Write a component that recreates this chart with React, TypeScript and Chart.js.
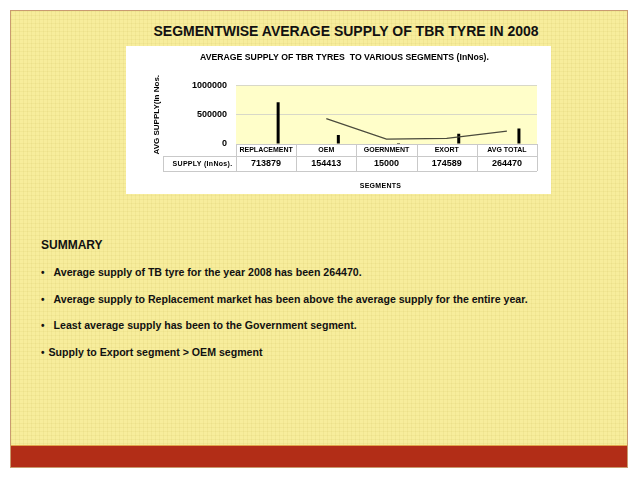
import React, { useEffect, useRef } from "react";
import { Chart, registerables } from "chart.js";

Chart.register(...registerables);

const slideTitle = "SEGMENTWISE AVERAGE SUPPLY OF TBR TYRE IN 2008";
const chartTitle = "AVERAGE SUPPLY OF TBR TYRES  TO VARIOUS SEGMENTS (InNos).";
const yAxisTitle = "AVG SUPPLY(In Nos.";
const xAxisTitle = "SEGMENTS";
const tableRowLabel = "SUPPLY (InNos).";

const categories = ["REPLACEMENT", "OEM", "GOERNMENT", "EXORT", "AVG TOTAL"];
const supply = [713879, 154413, 15000, 174589, 264470];
// 2-period moving average trendline
const movingAverage = [null, 434146, 84707, 94795, 219530];
const placeholder = [null, null, null, null, null];
const yTicks = [0, 500000, 1000000];

const summaryTitle = "SUMMARY";
const summaryItems = [
  "Average supply of TB tyre for the year 2008 has been 264470.",
  "Average supply to Replacement market has been above the average supply for the entire year.",
  "Least average supply has been to the Government segment.",
  "Supply to Export segment > OEM segment",
];

const FONT = "Arial, 'Liberation Sans', sans-serif";

const plotBgPlugin = {
  id: "plotBg",
  beforeDraw(chart: any) {
    const { ctx, chartArea } = chart;
    ctx.save();
    ctx.fillStyle = "#fffec9";
    ctx.fillRect(chartArea.left, chartArea.top, chartArea.right - chartArea.left, chartArea.bottom - chartArea.top);
    ctx.restore();
  },
};

const tablePlugin = {
  id: "dataTable",
  afterDraw(chart: any) {
    const { ctx, chartArea } = chart;
    const { left, right, bottom } = chartArea;
    const n = categories.length;
    const colW = (right - left) / n;
    const r1 = bottom;
    const r2 = bottom + 12;
    const r3 = bottom + 27;
    const headerLeft = left - 73;
    ctx.save();
    ctx.strokeStyle = "#c9c9c9";
    ctx.lineWidth = 1;
    ctx.beginPath();
    ctx.moveTo(left, r1 + 0.5);
    ctx.lineTo(right, r1 + 0.5);
    ctx.moveTo(headerLeft, r2 + 0.5);
    ctx.lineTo(right, r2 + 0.5);
    ctx.moveTo(headerLeft, r3 + 0.5);
    ctx.lineTo(right, r3 + 0.5);
    for (let i = 0; i <= n; i++) {
      const x = Math.round(left + i * colW) + 0.5;
      ctx.moveTo(x, r1);
      ctx.lineTo(x, r3);
    }
    ctx.moveTo(headerLeft + 0.5, r2);
    ctx.lineTo(headerLeft + 0.5, r3);
    ctx.stroke();

    ctx.fillStyle = "#000";
    ctx.textAlign = "center";
    ctx.textBaseline = "middle";
    (ctx as any).letterSpacing = "0px";
    ctx.font = `bold 7px ${FONT}`;
    categories.forEach((c, i) => {
      ctx.fillText(c, left + (i + 0.5) * colW, (r1 + r2) / 2 + 0.5);
    });
    ctx.font = `bold 9px ${FONT}`;
    supply.forEach((v, i) => {
      ctx.fillText(String(v), left + (i + 0.5) * colW, (r2 + r3) / 2 + 0.5);
    });
    (ctx as any).letterSpacing = "0.3px";
    ctx.font = `bold 7px ${FONT}`;
    ctx.fillText(tableRowLabel, (headerLeft + left) / 2 + 3, (r2 + r3) / 2 + 0.5);
    ctx.fillText(xAxisTitle, (left + right) / 2 - 6, r3 + 15);
    ctx.restore();
  },
};

function ChartBox() {
  const ref = useRef<HTMLCanvasElement | null>(null);
  useEffect(() => {
    if (!ref.current) return;
    const chart = new Chart(ref.current, {
      type: "bar",
      data: {
        labels: categories,
        datasets: [
          {
            type: "line",
            label: "Trend",
            data: movingAverage as any,
            borderColor: "#4a4a3c",
            borderWidth: 1.2,
            pointRadius: 0,
            tension: 0,
            fill: false,
          } as any,
          {
            type: "bar",
            label: "",
            data: placeholder as any,
            backgroundColor: "rgba(0,0,0,0)",
          },
          {
            type: "bar",
            label: tableRowLabel,
            data: supply,
            backgroundColor: "#000",
            maxBarThickness: 3,
          },
        ],
      },
      options: {
        animation: false,
        responsive: false,
        maintainAspectRatio: false,
        datasets: { bar: { categoryPercentage: 0.8, barPercentage: 1 } } as any,
        layout: { padding: { left: 26, right: 14, top: 6, bottom: 50 } },
        plugins: {
          legend: { display: false },
          tooltip: { enabled: false },
          title: {
            display: true,
            text: chartTitle,
            color: "#000",
            font: { family: FONT, size: 8.7, weight: "bold" },
            padding: { top: 0, bottom: 23 },
          },
        },
        scales: {
          x: { display: false, offset: true },
          y: {
            min: 0,
            max: 1000000,
            afterBuildTicks: (s: any) => {
              s.ticks = yTicks.map((v) => ({ value: v }));
            },
            afterFit: (s: any) => {
              s.width = 84;
            },
            ticks: {
              color: "#000",
              font: { family: FONT, size: 9, weight: "bold" },
              padding: 9,
              callback: (v: any) => String(v),
            },
            grid: { color: "#d8d8c8", drawTicks: false },
            border: { display: false },
            title: {
              display: true,
              text: yAxisTitle,
              color: "#000",
              font: { family: FONT, size: 8, weight: "bold" },
              padding: 0,
            },
          },
        },
      },
      plugins: [plotBgPlugin, tablePlugin],
    });
    return () => chart.destroy();
  }, []);
  return (
    <canvas
      ref={ref}
      width={425}
      height={148}
      style={{ position: "absolute", left: 126, top: 46, width: 425, height: 148, background: "#fff" }}
    />
  );
}

export default function App() {
  useEffect(() => {
    document.body.style.margin = "0";
  }, []);
  const bulletTops = [264, 291, 317, 344];
  return (
    <div style={{ position: "absolute", left: 0, top: 0, width: 638, height: 478, background: "#fff", fontFamily: FONT, overflow: "hidden" }}>
      <div
        style={{
          position: "absolute",
          left: 10,
          top: 10,
          width: 616,
          height: 456,
          border: "1px solid #c99b70",
          backgroundColor: "#f7ed9c",
          backgroundImage:
            "linear-gradient(rgba(190,170,70,0.10) 1px, transparent 1px), linear-gradient(90deg, rgba(190,170,70,0.10) 1px, transparent 1px)",
          backgroundSize: "4px 4px",
        }}
      >
        <div style={{ position: "absolute", left: 0, right: 0, top: 434, height: 1, background: "#e2a44a" }} />
        <div style={{ position: "absolute", left: 0, right: 0, top: 435, bottom: 0, background: "#b22d17" }} />
      </div>
      <div style={{ position: "absolute", left: 0, width: 692, top: 23, textAlign: "center", fontWeight: "bold", fontSize: 14, lineHeight: "16px", color: "#111" }}>
        {slideTitle}
      </div>
      <ChartBox />
      <div style={{ position: "absolute", left: 41, top: 237, fontWeight: "bold", fontSize: 12, lineHeight: "16px", color: "#111" }}>
        {summaryTitle}
      </div>
      {summaryItems.map((t, i) => (
        <div key={i} style={{ position: "absolute", left: 41, top: bulletTops[i], fontWeight: "bold", fontSize: 10.6, lineHeight: "16px", color: "#111", whiteSpace: "nowrap" }}>
          <span style={{ fontSize: 10 }}>•</span>
          <span style={{ marginLeft: i === 3 ? 4 : 9 }}>{t}</span>
        </div>
      ))}
    </div>
  );
}
